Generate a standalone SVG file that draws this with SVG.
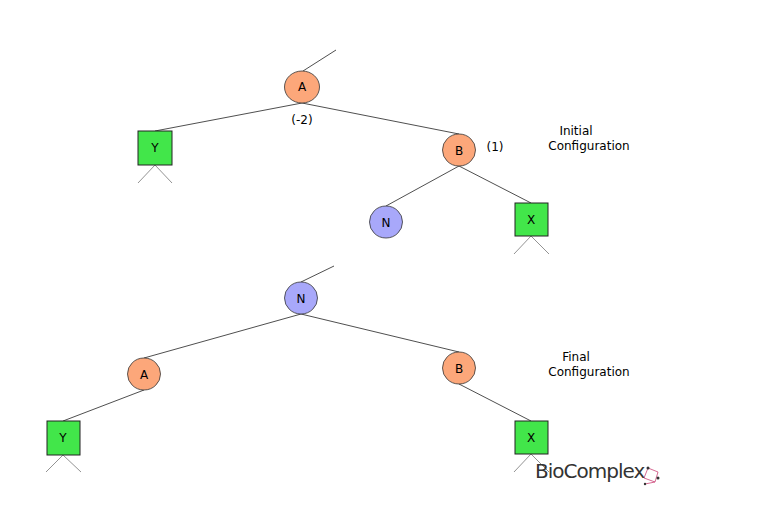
<svg xmlns="http://www.w3.org/2000/svg" width="758" height="507" viewBox="0 0 758 507">
<style>
.e{stroke:#222;stroke-width:0.8;fill:none}
.t{stroke:#777;stroke-width:0.8;fill:none}
.o{fill:#fca77a;stroke:#333;stroke-width:0.8}
.b{fill:#a8a8fa;stroke:#333;stroke-width:0.8}
.g{fill:#42e64a;stroke:#222;stroke-width:1}
text{font-family:"DejaVu Sans",sans-serif;font-size:12px;fill:#000}
.c{text-anchor:middle}
</style>
<rect width="758" height="507" fill="#fff"/>
<g id="connectors">
<line class="e" x1="303" y1="71" x2="336" y2="50"/>
<line class="e" x1="302" y1="103" x2="155" y2="131"/>
<line class="e" x1="302" y1="103" x2="459" y2="134"/>
<line class="e" x1="459" y1="166" x2="386" y2="206"/>
<line class="e" x1="459" y1="166" x2="531" y2="203"/>
<line class="t" x1="155" y1="165" x2="138" y2="183"/>
<line class="t" x1="155" y1="165" x2="172" y2="183"/>
<line class="t" x1="531" y1="236" x2="514" y2="254"/>
<line class="t" x1="531" y1="236" x2="549" y2="254"/>
<line class="e" x1="301" y1="282" x2="334" y2="266"/>
<line class="e" x1="301" y1="314" x2="144" y2="358"/>
<line class="e" x1="301" y1="314" x2="459" y2="352"/>
<line class="e" x1="144" y1="390" x2="63" y2="421"/>
<line class="e" x1="459" y1="384" x2="531" y2="421"/>
<line class="t" x1="63" y1="455" x2="46" y2="472"/>
<line class="t" x1="63" y1="455" x2="81" y2="472"/>
<line class="t" x1="531" y1="454" x2="514" y2="472"/>
<line class="t" x1="531" y1="454" x2="549" y2="472"/>
</g>
<g id="A1"><ellipse class="o" cx="302" cy="87" rx="17.5" ry="16"/><text class="c" x="302" y="91">A</text></g>
<g id="Y1"><rect class="g" x="138" y="131" width="34" height="34"/><text class="c" x="155" y="152">Y</text></g>
<g id="B1"><ellipse class="o" cx="459" cy="150" rx="16.5" ry="16"/><text class="c" x="459" y="155">B</text></g>
<g id="N1"><ellipse class="b" cx="386" cy="222" rx="16.5" ry="16"/><text class="c" x="386" y="227">N</text></g>
<g id="X1"><rect class="g" x="515" y="203" width="33" height="33"/><text class="c" x="531" y="224">X</text></g>
<text class="c" x="302" y="124">(-2)</text>
<text class="c" x="495" y="151">(1)</text>
<text class="c" x="576" y="135">Initial</text>
<text class="c" x="589" y="150">Configuration</text>
<g id="N2"><ellipse class="b" cx="301" cy="298" rx="16.5" ry="16"/><text class="c" x="301" y="303">N</text></g>
<g id="A2"><ellipse class="o" cx="144" cy="374" rx="16.5" ry="16"/><text class="c" x="144" y="379">A</text></g>
<g id="B2"><ellipse class="o" cx="459" cy="368" rx="16.5" ry="16"/><text class="c" x="459" y="373">B</text></g>
<g id="Y2"><rect class="g" x="47" y="421" width="33" height="34"/><text class="c" x="63" y="442">Y</text></g>
<g id="X2"><rect class="g" x="515" y="421" width="33" height="33"/><text class="c" x="531" y="442">X</text></g>
<text class="c" x="576" y="361">Final</text>
<text class="c" x="589" y="376">Configuration</text>
<g id="logo">
<text x="535" y="478" style="font-family:'DejaVu Sans',sans-serif;font-size:20px;fill:#333;letter-spacing:-1px">BioComplex</text>
<g stroke="#c47" stroke-width="0.8" fill="none"><path d="M648 468 L658 472 L655 482 L645 484 M648 468 L644 478 L655 482"/></g>
<g fill="#333"><circle cx="648" cy="468" r="1.5"/><circle cx="658" cy="478" r="1.5"/><circle cx="645" cy="484" r="1.2"/></g>
</g>
</svg>
